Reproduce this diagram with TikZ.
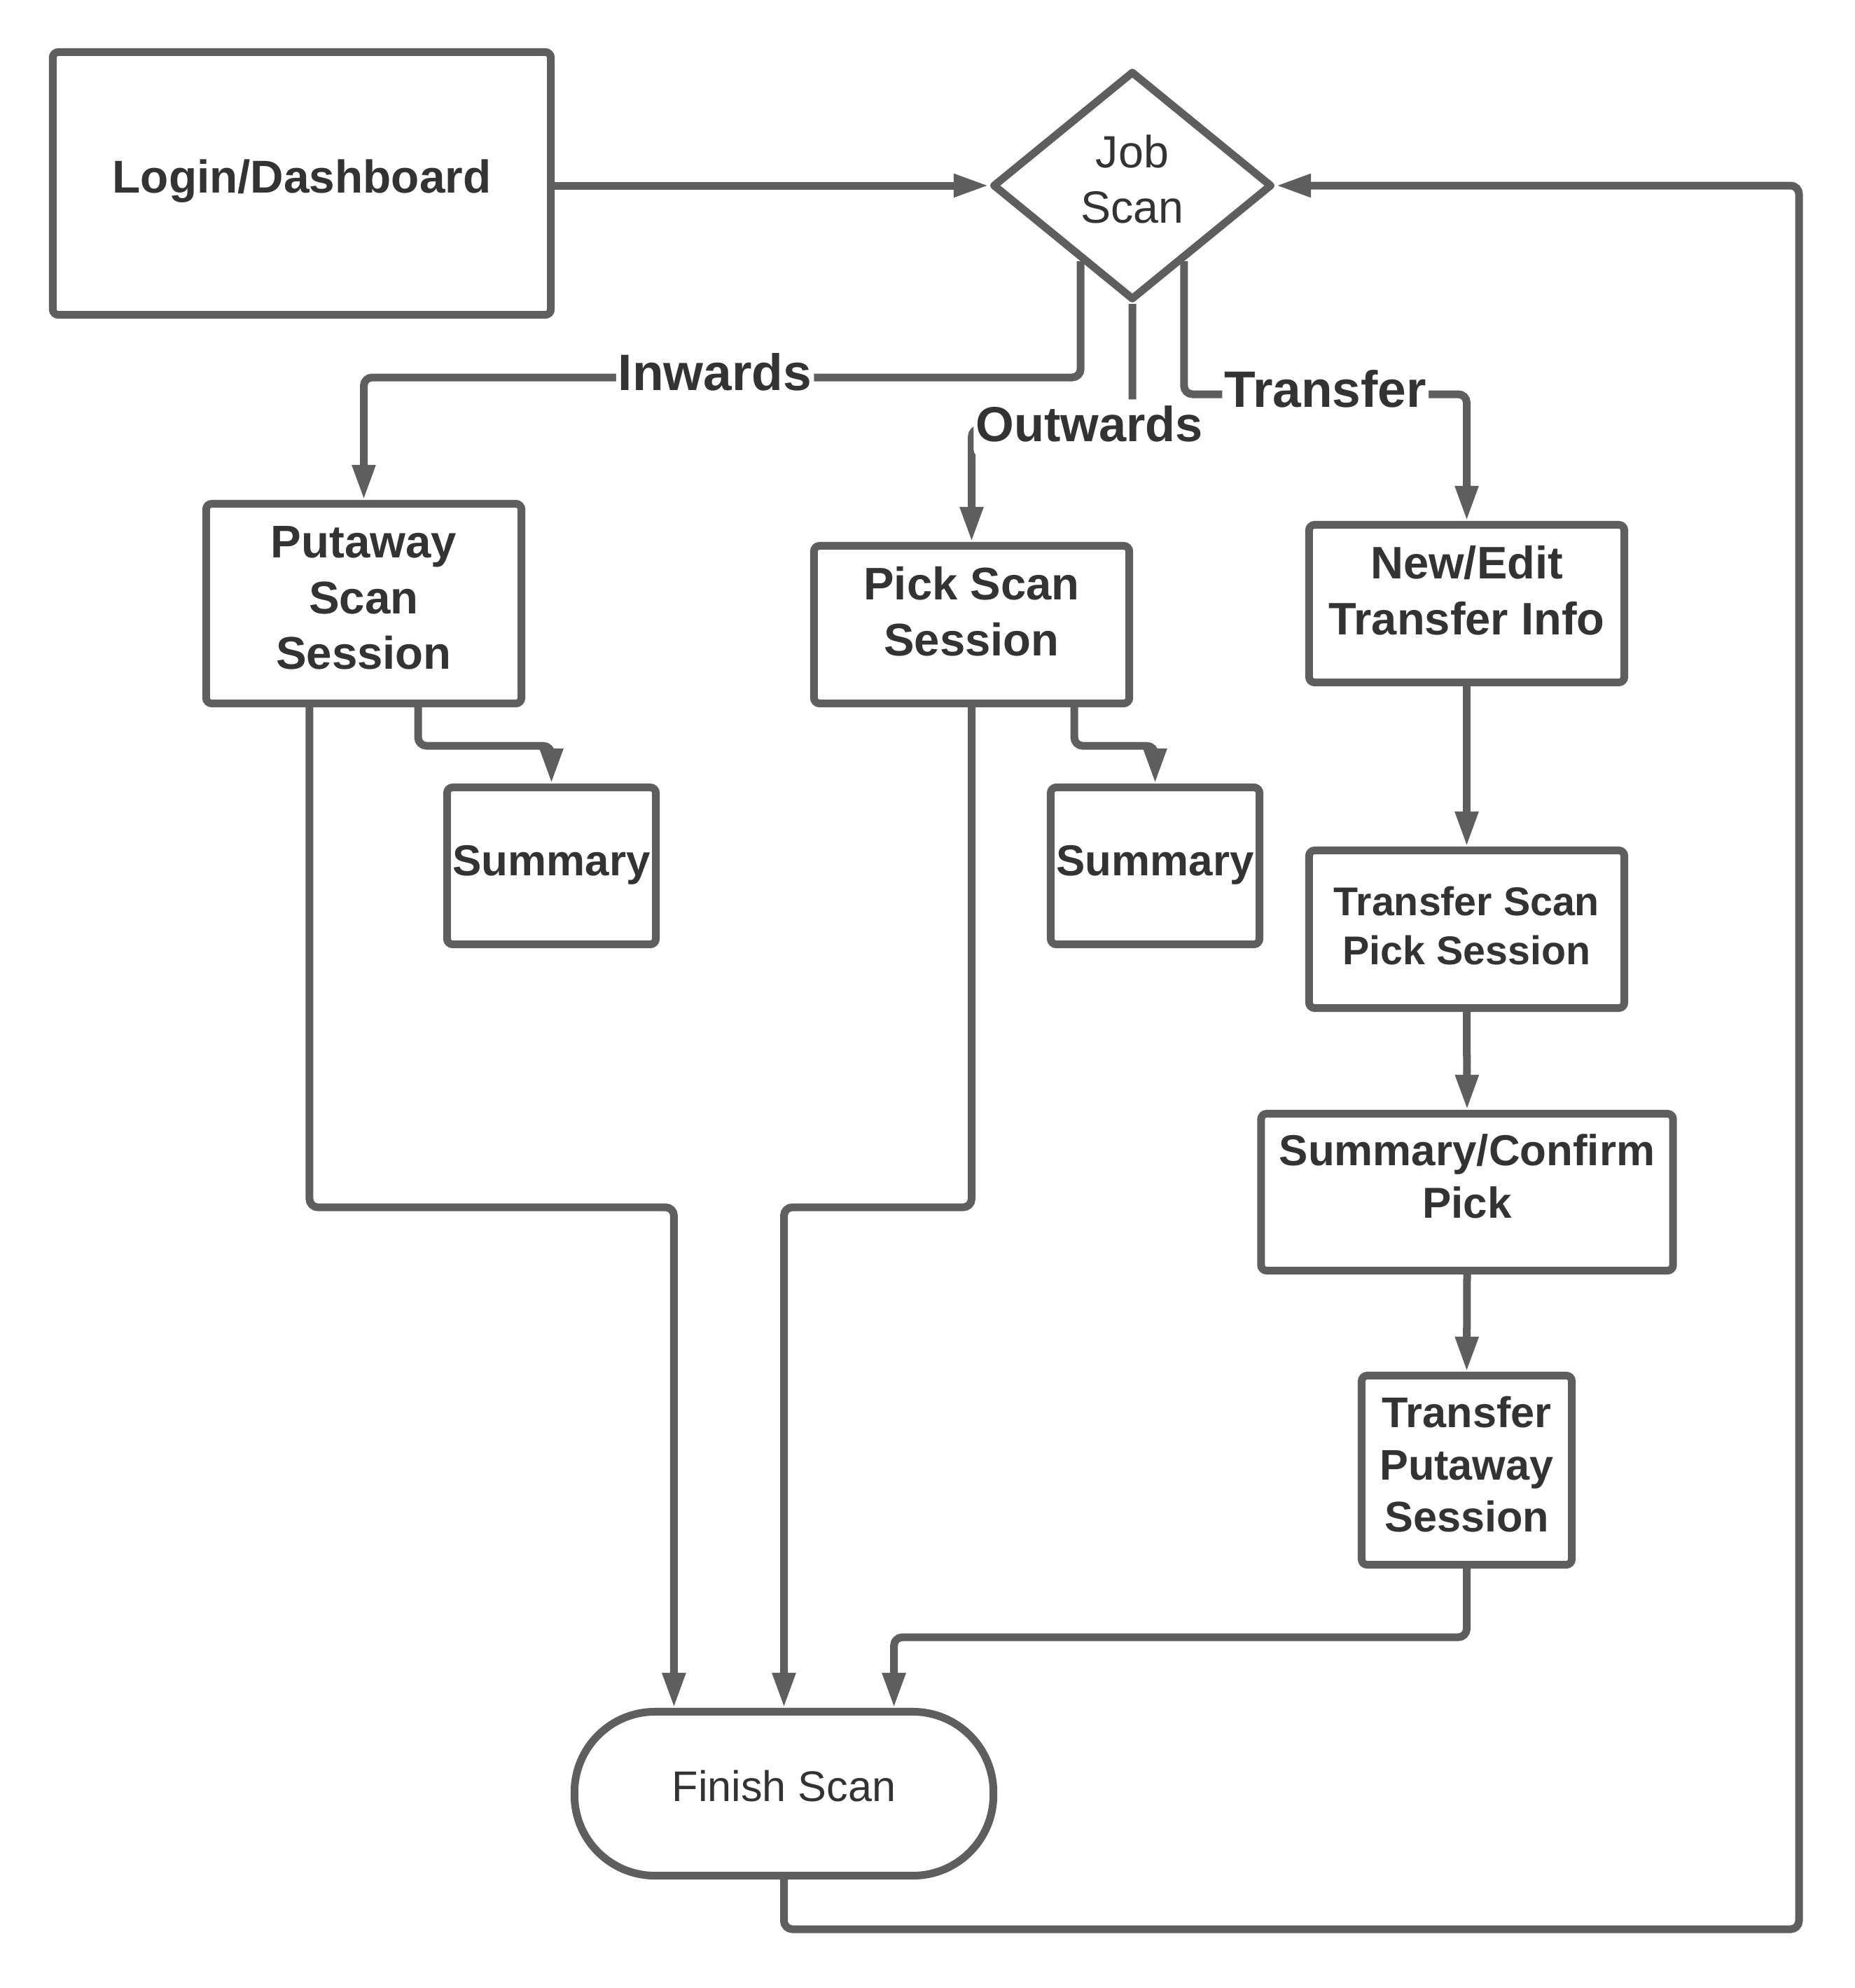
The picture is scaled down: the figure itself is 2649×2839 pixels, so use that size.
\documentclass[tikz,border=0pt]{standalone}
\usepackage{fontspec}
\setmainfont{Liberation Sans}
\usetikzlibrary{shapes.geometric, arrows.meta, calc}
\definecolor{linegray}{HTML}{5E5E5E}
\definecolor{textgray}{HTML}{333333}
\newcommand{\boxfont}[2]{\fontsize{#1}{#2}\selectfont\bfseries}
\newcommand{\plainfont}[2]{\fontsize{#1}{#2}\selectfont}
\tikzset{
  box/.style={draw=linegray, line width=1.1mm, rounded corners=0.8mm, fill=white,
    text=textgray, align=center, inner sep=0pt},
  flow/.style={draw=linegray, line width=1.1mm, rounded corners=1.2mm,
    -{Triangle[length=5mm, width=3.1mm]}},
  flowlabel/.style={fill=white, text=textgray, inner xsep=0.3mm, inner ysep=0.5mm,
    text height=15.6pt, text depth=5.2pt, font=\boxfont{20.8pt}{25pt}}
}
\begin{document}
\begin{tikzpicture}[x=0.01cm, y=-0.01cm]
    \path[fill=white, use as bounding box] (0,0) rectangle (2649,2839);
    % boxes
    \node[box, minimum width=7.11cm, minimum height=3.75cm, text depth=0.21cm,
      font=\boxfont{18.7pt}{22.5pt}] (login) at (431,262) {Login/Dashboard};
    \node[diamond, draw=linegray, line width=1.1mm, line join=round, fill=white,
      text=textgray, align=center, inner sep=0pt, aspect=1.22,
      minimum width=3.99cm, minimum height=3.27cm, text depth=0.18cm,
      font=\plainfont{18.35pt}{22.5pt}] (job) at (1617,265) {Job\\Scan};
    \node[box, minimum width=4.5cm, minimum height=2.85cm, text depth=0.17cm,
      font=\boxfont{18.6pt}{22.5pt}] (putaway) at (519.5,862) {Putaway\\Scan\\Session};
    \node[box, minimum width=4.5cm, minimum height=2.25cm, text depth=0.39cm,
      font=\boxfont{18.55pt}{22.8pt}] (pick) at (1387.5,892) {Pick Scan\\Session};
    \node[box, minimum width=4.5cm, minimum height=2.25cm, text depth=0.38cm,
      font=\boxfont{18.5pt}{22.8pt}] (newedit) at (2094.5,862) {New/Edit\\Transfer Info};
    \node[box, minimum width=2.98cm, minimum height=2.24cm, text depth=0.16cm,
      font=\boxfont{17.6pt}{21pt}] (sum1) at (787.5,1236.5) {Summary};
    \node[box, minimum width=2.98cm, minimum height=2.24cm, text depth=0.16cm,
      font=\boxfont{17.6pt}{21pt}] (sum2) at (1649.5,1236.5) {Summary};
    \node[box, minimum width=4.5cm, minimum height=2.25cm, text depth=0.10cm,
      font=\boxfont{16.3pt}{19.9pt}] (tsp) at (2094.5,1327) {Transfer Scan\\Pick Session};
    \node[box, minimum width=5.88cm, minimum height=2.24cm, text depth=0.45cm,
      font=\boxfont{17.6pt}{21.3pt}] (confirm) at (2095,1702.5) {Summary/Confirm\\Pick};
    \node[box, minimum width=3.0cm, minimum height=2.7cm, text depth=0.17cm,
      font=\boxfont{17.4pt}{21.2pt}] (tps) at (2094.5,2099.5) {Transfer\\Putaway\\Session};
    \node[box, rounded corners=1.15cm, minimum width=5.98cm, minimum height=2.34cm,
      text depth=0.23cm, font=\plainfont{17.4pt}{21pt}] (finish) at (1119.5,2561.5) {Finish Scan};
    % exits of the decision
    \coordinate (inA) at ($(job.west)!0.64!(job.south)$);
    \coordinate (trA) at ($(job.east)!0.64!(job.south)$);
    % connectors
    \draw[flow] (login.east |- job.west) -- (job.west);
    \draw[flow] (inA) -- (inA |- 0,539) -- node[flowlabel, pos=0.51]{Inwards}
      (putaway.north |- 0,539) -- (putaway.north);
    \draw[flow] (job.south) -- (job.south |- 0,612) -- node[flowlabel, pos=0.268,
      font=\boxfont{20pt}{24pt}]{Outwards} (pick.north |- 0,612) -- (pick.north);
    \draw[flow] (trA) -- (trA |- 0,563) -- node[flowlabel, pos=0.5]{Transfer}
      (newedit.north |- 0,563) -- (newedit.north);
    \draw[flow] ([xshift=0.775cm]putaway.south) -- ++(0,55) -| (sum1.north);
    \draw[flow] ([xshift=1.465cm]pick.south) -- ++(0,55) -| (sum2.north);
    \draw[flow] ([xshift=-0.775cm]putaway.south) -- ++(0,714) -| ([xshift=-1.57cm]finish.north);
    \draw[flow] (pick.south) -- ++(0,714) -| (finish.north);
    \draw[flow] (newedit.south) -- (tsp.north);
    \draw[flow] (tsp.south) -- (confirm.north);
    \draw[flow] (confirm.south) -- (tps.north);
    \draw[flow] (tps.south) -- ++(0,98) -| ([xshift=1.57cm]finish.north);
    \draw[flow] (finish.south) |- (2569,2755) |- (job.east);
\end{tikzpicture}
\end{document}
